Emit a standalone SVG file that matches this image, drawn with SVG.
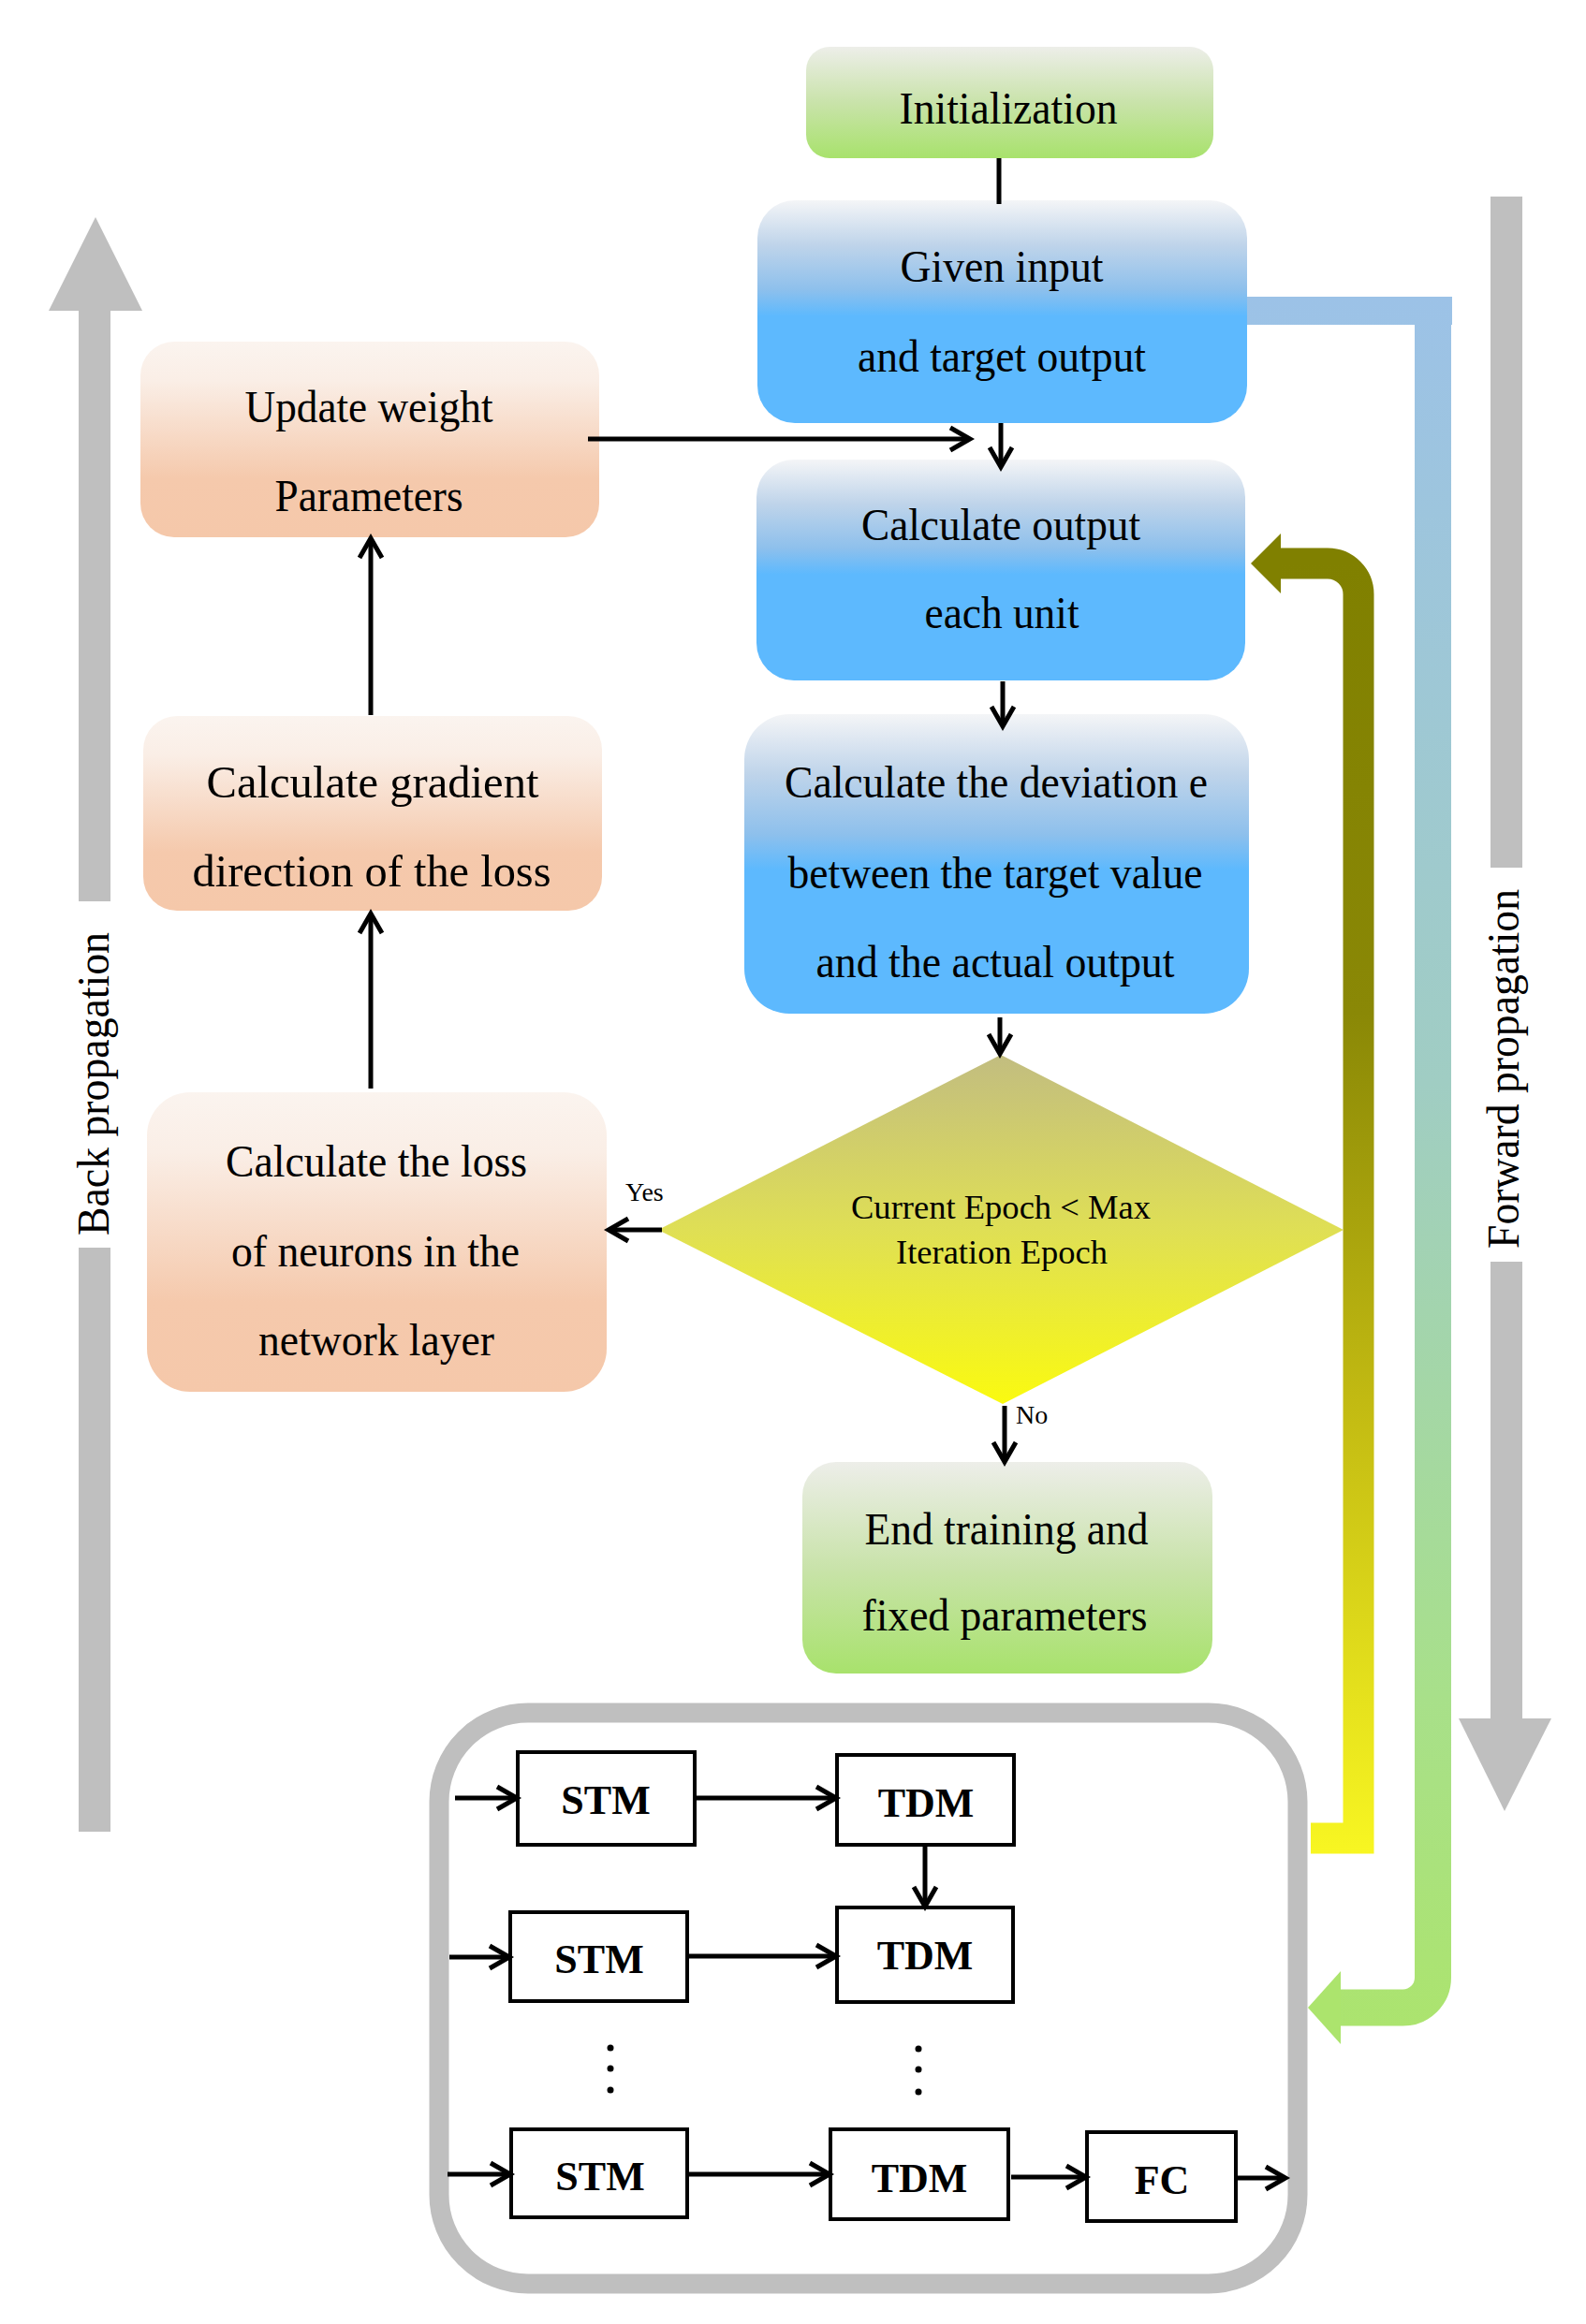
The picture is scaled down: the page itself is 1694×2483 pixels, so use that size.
<svg xmlns="http://www.w3.org/2000/svg" width="1694" height="2483" viewBox="0 0 1694 2483">
<style>
.t{font-family:"Liberation Serif","Times New Roman",serif;font-size:48px;fill:#000;text-anchor:middle}
.s{font-family:"Liberation Serif","Times New Roman",serif;font-size:36px;fill:#000;text-anchor:middle}
.l{font-family:"Liberation Serif","Times New Roman",serif;font-size:28px;fill:#000}
.b{font-family:"Liberation Serif","Times New Roman",serif;font-size:44px;font-weight:bold;fill:#000;text-anchor:middle}
.ln{stroke:#000;stroke-width:5;fill:none}
.bx{fill:#fff;stroke:#000;stroke-width:4}
.gray{fill:#BFBFBF}
</style>
<defs>
<linearGradient id="gBlue" x1="0" y1="0" x2="0" y2="1">
<stop offset="0" stop-color="#F4F5F7"/>
<stop offset="0.2" stop-color="#BFD4EA"/>
<stop offset="0.4" stop-color="#8EC0EC"/>
<stop offset="0.52" stop-color="#5DB9FE"/>
<stop offset="1" stop-color="#5DB9FE"/>
</linearGradient>
<linearGradient id="gOrange" x1="0" y1="0" x2="0" y2="1">
<stop offset="0" stop-color="#FBF4EF"/>
<stop offset="0.2" stop-color="#FAEEE6"/>
<stop offset="0.7" stop-color="#F5C9AC"/>
<stop offset="1" stop-color="#F5C8AA"/>
</linearGradient>
<linearGradient id="gGreen" x1="0" y1="0" x2="0" y2="1">
<stop offset="0" stop-color="#EDEEE9"/>
<stop offset="0.5" stop-color="#C9E3AA"/>
<stop offset="1" stop-color="#A8E26C"/>
</linearGradient>
<linearGradient id="gDiamond" x1="0" y1="0" x2="0" y2="1">
<stop offset="0" stop-color="#C2BD80"/>
<stop offset="0.5" stop-color="#DFDF55"/>
<stop offset="1" stop-color="#FAFA10"/>
</linearGradient>
<linearGradient id="gOlive" gradientUnits="userSpaceOnUse" x1="0" y1="600" x2="0" y2="1980">
<stop offset="0" stop-color="#808000"/>
<stop offset="0.35" stop-color="#8A8806"/>
<stop offset="0.65" stop-color="#C2BA12"/>
<stop offset="1" stop-color="#F8F622"/>
</linearGradient>
<linearGradient id="gFwd" gradientUnits="userSpaceOnUse" x1="0" y1="317" x2="0" y2="2184">
<stop offset="0" stop-color="#9CC2E7"/>
<stop offset="0.45" stop-color="#A0CDC3"/>
<stop offset="0.8" stop-color="#A8E08A"/>
<stop offset="1" stop-color="#ACE46D"/>
</linearGradient>
<marker id="ah" markerUnits="userSpaceOnUse" viewBox="0 0 30 30" refX="25" refY="15" markerWidth="30" markerHeight="30" orient="auto" overflow="visible">
<path d="M4,3 L25,15 L4,27" fill="none" stroke="#000" stroke-width="5"/>
</marker>
</defs>
<rect width="1694" height="2483" fill="#fff"/>

<g id="back-propagation">
<polygon class="gray" points="52,332 102,232 152,332"/>
<rect class="gray" x="84" y="330" width="34" height="633"/>
<rect class="gray" x="84" y="1333" width="34" height="624"/>
<text class="t" transform="translate(116,1158) rotate(-90)" textLength="324" lengthAdjust="spacingAndGlyphs">Back propagation</text>
</g>

<g id="forward-propagation">
<rect class="gray" x="1592" y="210" width="34" height="717"/>
<rect class="gray" x="1592" y="1348" width="34" height="490"/>
<polygon class="gray" points="1558,1836 1657,1836 1607,1935"/>
<text class="t" transform="translate(1622,1142) rotate(-90)" textLength="384" lengthAdjust="spacingAndGlyphs">Forward propagation</text>
</g>

<g id="container">
<rect x="469" y="1830" width="917" height="610" rx="95" fill="none" stroke="#BFBFBF" stroke-width="21"/>
</g>

<g id="feedback-arrows">
<path d="M1400,1964 H1451 V635 A33,33 0 0 0 1418,602 H1366" fill="none" stroke="url(#gOlive)" stroke-width="33"/>
<polygon points="1336,602 1368,570 1368,634" fill="#808000"/>
<rect x="1331" y="317" width="220" height="30" fill="url(#gFwd)"/>
<path d="M1530.5,317 V2113 A32,32 0 0 1 1498.5,2145 H1430" fill="none" stroke="url(#gFwd)" stroke-width="39"/>
<polygon points="1397,2145 1432,2106 1432,2184" fill="#ACE46D"/>
</g>

<g id="init">
<rect x="861" y="50" width="435" height="119" rx="25" fill="url(#gGreen)"/>
<text class="t" x="1077" y="132" textLength="233" lengthAdjust="spacingAndGlyphs">Initialization</text>
</g>
<g id="given">
<rect x="809" y="214" width="523" height="238" rx="40" fill="url(#gBlue)"/>
<text class="t" x="1070" y="301" textLength="217" lengthAdjust="spacingAndGlyphs">Given input</text>
<text class="t" x="1070" y="397" textLength="308" lengthAdjust="spacingAndGlyphs">and target output</text>
</g>
<g id="calc-output">
<rect x="808" y="491" width="522" height="236" rx="40" fill="url(#gBlue)"/>
<text class="t" x="1069" y="577" textLength="298" lengthAdjust="spacingAndGlyphs">Calculate output</text>
<text class="t" x="1070" y="671" textLength="165" lengthAdjust="spacingAndGlyphs">each unit</text>
</g>
<g id="deviation">
<rect x="795" y="763" width="539" height="320" rx="48" fill="url(#gBlue)"/>
<text class="t" x="1064" y="852" textLength="452" lengthAdjust="spacingAndGlyphs">Calculate the deviation e</text>
<text class="t" x="1063" y="949" textLength="443" lengthAdjust="spacingAndGlyphs">between the target value</text>
<text class="t" x="1063" y="1044" textLength="383" lengthAdjust="spacingAndGlyphs">and the actual output</text>
</g>
<g id="decision">
<polygon points="1069,1127 1435,1314 1071,1500 703,1314" fill="url(#gDiamond)"/>
<text class="s" x="1069" y="1302" textLength="320" lengthAdjust="spacingAndGlyphs">Current Epoch &lt; Max</text>
<text class="s" x="1070" y="1350" textLength="226" lengthAdjust="spacingAndGlyphs">Iteration Epoch</text>
</g>
<g id="end">
<rect x="857" y="1562" width="438" height="226" rx="36" fill="url(#gGreen)"/>
<text class="t" x="1075" y="1650" textLength="303" lengthAdjust="spacingAndGlyphs">End training and</text>
<text class="t" x="1073" y="1742" textLength="305" lengthAdjust="spacingAndGlyphs">fixed parameters</text>
</g>
<g id="update">
<rect x="150" y="365" width="490" height="209" rx="36" fill="url(#gOrange)"/>
<text class="t" x="394" y="451" textLength="265" lengthAdjust="spacingAndGlyphs">Update weight</text>
<text class="t" x="394" y="546" textLength="201" lengthAdjust="spacingAndGlyphs">Parameters</text>
</g>
<g id="gradient">
<rect x="153" y="765" width="490" height="208" rx="36" fill="url(#gOrange)"/>
<text class="t" x="398" y="852" textLength="355" lengthAdjust="spacingAndGlyphs">Calculate gradient</text>
<text class="t" x="397" y="947" textLength="383" lengthAdjust="spacingAndGlyphs">direction of the loss</text>
</g>
<g id="loss">
<rect x="157" y="1167" width="491" height="320" rx="46" fill="url(#gOrange)"/>
<text class="t" x="402" y="1257" textLength="322" lengthAdjust="spacingAndGlyphs">Calculate the loss</text>
<text class="t" x="401" y="1353" textLength="308" lengthAdjust="spacingAndGlyphs">of neurons in the</text>
<text class="t" x="402" y="1448" textLength="252" lengthAdjust="spacingAndGlyphs">network layer</text>
</g>

<g id="stm1"><rect class="bx" x="553" y="1872" width="189" height="99"/><text class="b" x="647" y="1938">STM</text></g>
<g id="tdm1"><rect class="bx" x="894" y="1875" width="189" height="96"/><text class="b" x="989" y="1941">TDM</text></g>
<g id="stm2"><rect class="bx" x="545" y="2043" width="189" height="95"/><text class="b" x="640" y="2108">STM</text></g>
<g id="tdm2"><rect class="bx" x="894" y="2038" width="188" height="101"/><text class="b" x="988" y="2104">TDM</text></g>
<g id="stm3"><rect class="bx" x="546" y="2275" width="188" height="94"/><text class="b" x="641" y="2340">STM</text></g>
<g id="tdm3"><rect class="bx" x="887" y="2275" width="190" height="96"/><text class="b" x="982" y="2342">TDM</text></g>
<g id="fc"><rect class="bx" x="1161" y="2278" width="159" height="95"/><text class="b" x="1241" y="2344">FC</text></g>
<g id="ellipsis">
<circle cx="652" cy="2188" r="3.5"/><circle cx="652" cy="2210" r="3.5"/><circle cx="652" cy="2233" r="3.5"/>
<circle cx="981" cy="2189" r="3.5"/><circle cx="981" cy="2211" r="3.5"/><circle cx="981" cy="2235" r="3.5"/>
</g>

<g id="connectors">
<line class="ln" x1="1067" y1="169" x2="1067" y2="218"/>
<line class="ln" x1="628" y1="469" x2="1036" y2="469" marker-end="url(#ah)"/>
<line class="ln" x1="1069" y1="452" x2="1069" y2="499" marker-end="url(#ah)"/>
<line class="ln" x1="1071" y1="728" x2="1071" y2="776" marker-end="url(#ah)"/>
<line class="ln" x1="1068" y1="1087" x2="1068" y2="1126" marker-end="url(#ah)"/>
<line class="ln" x1="707" y1="1314" x2="650" y2="1314" marker-end="url(#ah)"/>
<line class="ln" x1="396" y1="1163" x2="396" y2="976" marker-end="url(#ah)"/>
<line class="ln" x1="396" y1="764" x2="396" y2="575" marker-end="url(#ah)"/>
<line class="ln" x1="1073" y1="1502" x2="1073" y2="1562" marker-end="url(#ah)"/>
<line class="ln" x1="486" y1="1921" x2="552" y2="1921" marker-end="url(#ah)"/>
<line class="ln" x1="742" y1="1921" x2="893" y2="1921" marker-end="url(#ah)"/>
<line class="ln" x1="988" y1="1971" x2="988" y2="2037" marker-end="url(#ah)"/>
<line class="ln" x1="480" y1="2091" x2="544" y2="2091" marker-end="url(#ah)"/>
<line class="ln" x1="734" y1="2090" x2="893" y2="2090" marker-end="url(#ah)"/>
<line class="ln" x1="478" y1="2323" x2="545" y2="2323" marker-end="url(#ah)"/>
<line class="ln" x1="734" y1="2323" x2="886" y2="2323" marker-end="url(#ah)"/>
<line class="ln" x1="1080" y1="2326" x2="1160" y2="2326" marker-end="url(#ah)"/>
<line class="ln" x1="1320" y1="2327" x2="1373" y2="2327" marker-end="url(#ah)"/>
<text class="l" x="668" y="1283">Yes</text>
<text class="l" x="1085" y="1521">No</text>
</g>
</svg>
